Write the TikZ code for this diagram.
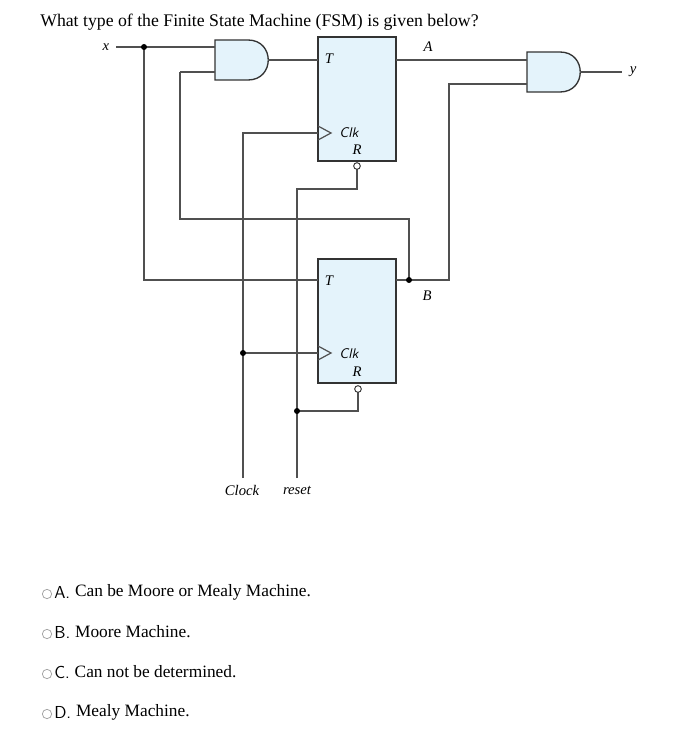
\documentclass[tikz,border=0pt]{standalone}
\usepackage{fontspec}
\setmainfont{Liberation Serif}
\definecolor{ffblue}{HTML}{E4F3FB}
\definecolor{wire}{HTML}{505050}
\tikzset{
  w/.style={draw=wire, line width=0.9pt},
  box/.style={draw=black!80, line width=1pt, fill=ffblue},
  dot/.style={circle, fill=black, inner sep=0pt, minimum size=4.5pt},
  bub/.style={circle, draw=black!80, fill=white, inner sep=0pt, minimum size=5pt, line width=0.7pt},
  lab/.style={font=\fontsize{11}{12}\selectfont\itshape, inner sep=1pt},
  sans/.style={font=\fontsize{10.5}{12}\selectfont\sffamily\itshape, inner sep=1pt},
  opt/.style={font=\fontsize{13}{15}\selectfont, anchor=west, inner sep=0pt},
}
\begin{document}
\begin{tikzpicture}[x=0.75pt,y=-0.75pt]
\useasboundingbox (0,0) rectangle (686,752);
\node[anchor=west, font=\fontsize{13.3}{15}\selectfont, inner sep=0pt] (title) at (40,22) {What type of the Finite State Machine (FSM) is given below?};

% flip-flops
\draw[box] (318,37) rectangle (396,161);
\draw[box] (318,259) rectangle (396,383);
% gates
\path[box] (215,40) -- (248,40) .. controls (275,40) and (275,80) .. (248,80) -- (215,80) -- cycle;
\path[box] (527,52) -- (560,52) .. controls (587,52) and (587,92) .. (560,92) -- (527,92) -- cycle;

% labels
\node[lab] (xl) at (106,47) {x};
\node[lab] (Al) at (428,47) {A};
\node[lab] (yl) at (633,72) {y};
\node[lab] (Bl) at (427,296) {B};
\node[lab] (Ta) at (329,59) {T};
\node[lab] (Tb) at (329,281) {T};
\node[sans] (Ca) at (349,133) {Clk};
\node[sans] (Cb) at (349,354) {Clk};
\node[lab] (Ra) at (357,150) {R};
\node[lab] (Rb) at (357,372) {R};
\node[lab] (clk) at (242,490) {Clock};
\node[lab] (rst) at (297,490) {reset};

% clock triangles
\draw[w] (318,126) -- (331,133) -- (318,140);
\draw[w] (318,346) -- (331,353) -- (318,360);

% wires
\draw[w] (116,47) -- (215,47);
\draw[w] (144,47) -- (144,280) -- (318,280);
\draw[w] (268,60) -- (318,60);
\draw[w] (396,60) -- (527,60);
\draw[w] (580,72) -- (622,72);
\draw[w] (180,72) -- (215,72);
\draw[w] (180,72) -- (180,219) -- (409,219) -- (409,280);
\draw[w] (396,280) -- (449,280) -- (449,84) -- (527,84);
\draw[w] (243,478) -- (243,133) -- (318,133);
\draw[w] (243,353) -- (318,353);
\draw[w] (297,478) -- (297,189) -- (357,189) -- (357,166);
\draw[w] (297,411) -- (358,411) -- (358,390);

\node[bub] (ba) at (357,166) {};
\node[bub] (bb) at (358,389) {};
\node[dot] (d1) at (144,47) {};
\node[dot] (d2) at (409,280) {};
\node[dot] (d3) at (243,353) {};
\node[dot] (d4) at (297,411) {};

% options
\foreach \yy/\ll/\tt [count=\i] in {594/A./Can be Moore or Mealy Machine., 634/B./Moore Machine., 674/C./Can not be determined., 714/D./Mealy Machine.}{
  \node[circle, draw=black!35, line width=0.6pt, inner sep=0pt, minimum size=7pt] (r\i) at (47,\yy) {};
  \node[opt] (o\i) at (54,\yy-2) {\sffamily\fontsize{13}{15}\selectfont\ll};
  \node[opt] (t\i) at (o\i.east) {\ \tt};
}
\end{tikzpicture}
\end{document}
